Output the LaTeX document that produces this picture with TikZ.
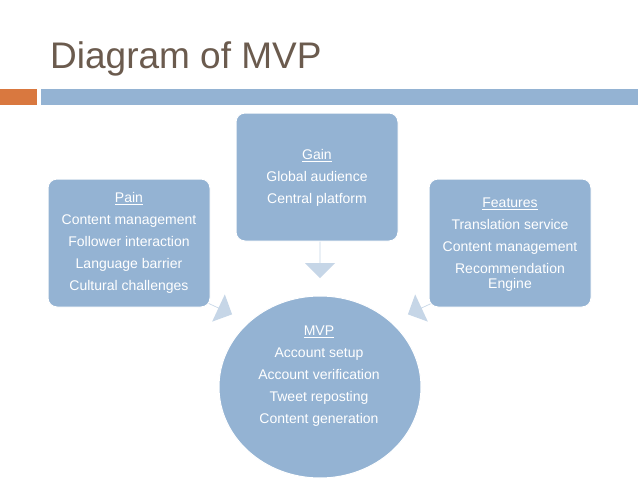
\documentclass[tikz,border=0pt]{standalone}
\usepackage{fontspec}
\setmainfont{Liberation Sans}
\usetikzlibrary{shapes.arrows,shapes.geometric}
\definecolor{boxc}{HTML}{94B3D3}
\definecolor{arrc}{HTML}{C6D6E7}
\definecolor{titc}{HTML}{6B5B4E}
\definecolor{orc}{HTML}{D9783F}
\begin{document}
\begin{tikzpicture}[x=1pt,y=-1pt,
  box/.style={fill=boxc,draw=white,line width=1pt,rounded corners=9pt,minimum width=162pt,text=white,font=\fontsize{14}{22}\selectfont,align=center},
  barrow/.style={single arrow,fill=arrc,draw=none,single arrow head extend=9pt,minimum width=30pt,inner sep=0pt},
  txt/.style={text=white,font=\fontsize{14}{22}\selectfont,align=center}]
\useasboundingbox (0,0) rectangle (638,479);
\fill[white] (0,0) rectangle (638,479);
\node[anchor=base west,text=titc,font=\fontsize{37}{40}\selectfont,inner sep=0pt] (t) at (50,68) {Diagram of MVP};
\fill[orc] (0,89) rectangle (37,105);
\fill[boxc] (41,89) rectangle (638,105);
\node[barrow,minimum height=40pt,rotate=-90] (a2) at (320,258) {};
\node[barrow,minimum height=44pt,rotate=-25] (a1) at (212,305) {};
\node[barrow,minimum height=44pt,rotate=205] (a3) at (428,305) {};
\node[box,minimum height=128pt] (pain) at (129,243) {};
\node[box,minimum height=128pt] (gain) at (317,177) {};
\node[box,minimum height=128pt] (feat) at (510,243) {};
\node[ellipse,fill=boxc,draw=white,line width=1pt,minimum width=202pt,minimum height=182pt] (mvp) at (320,387) {};
\node[txt] (pt) at (129,243) {\underline{Pain}\\Content management\\Follower interaction\\Language barrier\\Cultural challenges};
\node[txt] (gt) at (317,178) {\underline{Gain}\\Global audience\\Central platform};
\node[txt,anchor=north] (ft) at (510,194) {\underline{Features}\\Translation service\\Content management\\Recommendation\\[-7pt]Engine};
\node[txt] (mt) at (319,376) {\underline{MVP}\\Account setup\\Account verification\\Tweet reposting\\Content generation};
\end{tikzpicture}
\end{document}
